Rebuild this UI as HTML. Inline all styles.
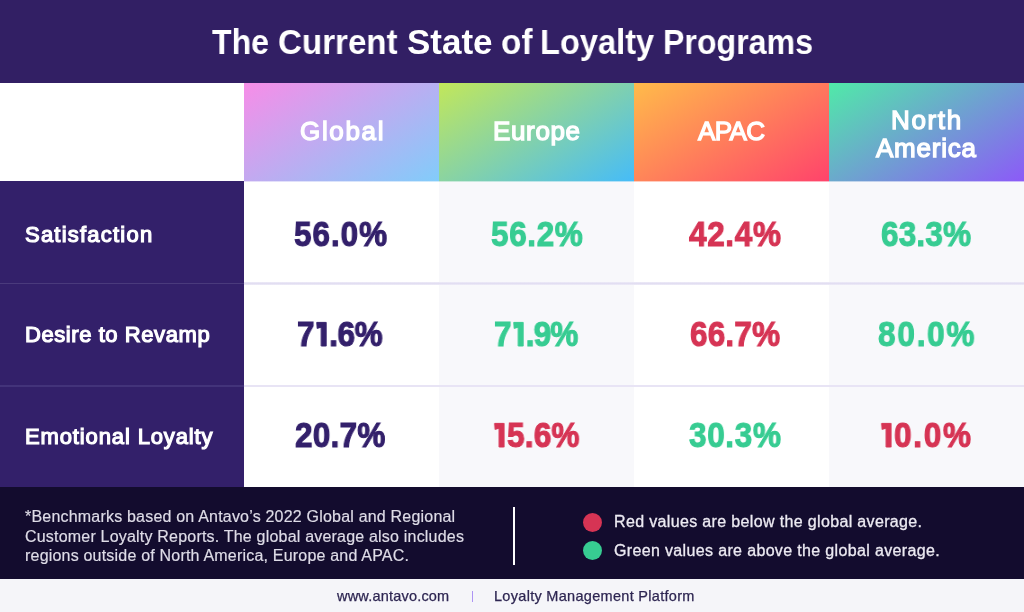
<!DOCTYPE html>
<html><head><meta charset="utf-8">
<style>
*{margin:0;padding:0;box-sizing:border-box}
html,body{width:1024px;height:612px;overflow:hidden;background:#fff}
body{position:relative;font-family:"Liberation Sans",sans-serif;-webkit-font-smoothing:antialiased}
.t{will-change:transform}
.a{position:absolute}
.t{position:absolute;white-space:nowrap;line-height:1}
#hdr{left:0;top:0;width:1024px;height:83px;background:#321f64}
.tw{color:#fff;font-weight:bold;font-size:35px;transform-origin:0 0}
.hc{top:83px;height:98px;width:195px}
.hl{color:#fff;font-weight:normal;font-size:26px;transform-origin:0 0;-webkit-text-stroke:1.3px #fff}
.lc{left:0;width:244px;background:#33206a}
.rl{color:#fff;font-weight:normal;font-size:22px;-webkit-text-stroke:1.2px #fff}
.num{font-weight:bold;font-size:35px;transform:scaleX(0.9);transform-origin:0 0;-webkit-text-stroke:1.1px currentColor}
.one{fill:currentColor;stroke:currentColor;stroke-width:1;vertical-align:baseline;overflow:visible}
.pu{color:#33206b}.gr{color:#37cc92}.rd{color:#d63454}
.ft{color:#dedce7;font-size:16px;letter-spacing:0.2px;-webkit-text-stroke:0.2px #dedce7}
</style></head><body>
<div id="hdr" class="a"></div>
<div class="t tw" style="left:211.5px;top:24px;transform:scaleX(0.915)">The</div><div class="t tw" style="left:277.5px;top:24px;transform:scaleX(0.946)">Current</div><div class="t tw" style="left:407.4px;top:24px;transform:scaleX(1.000)">State</div><div class="t tw" style="left:500.5px;top:24px;transform:scaleX(0.953)">of</div><div class="t tw" style="left:540.3px;top:24px;transform:scaleX(0.931)">Loyalty</div><div class="t tw" style="left:662.7px;top:24px;transform:scaleX(0.918)">Programs</div>

<!-- header row -->
<div class="a" style="left:0;top:83px;width:244px;height:98px;background:#fff"></div>
<div class="a hc" style="left:244px;background:linear-gradient(148deg,#f78de8 0%,#82ccfa 100%)"></div>
<div class="a hc" style="left:439px;background:linear-gradient(148deg,#c2e75a 0%,#46bcf8 100%)"></div>
<div class="a hc" style="left:634px;background:linear-gradient(148deg,#ffbb4a 0%,#ff3c6d 106%)"></div>
<div class="a hc" style="left:829px;background:linear-gradient(148deg,#50eaa8 0%,#8c5af8 100%)"></div>
<div class="t hl" style="left:299.70px;top:118px;letter-spacing:1.66px">Global</div>
<div class="t hl" style="left:493.00px;top:118px;letter-spacing:0.64px">Europe</div>
<div class="t hl" style="left:698.00px;top:118px;letter-spacing:-0.65px">APAC</div>
<div class="t hl" style="left:891.00px;top:107px;letter-spacing:1.64px">North</div>
<div class="t hl" style="left:876.00px;top:135px;letter-spacing:0.77px">America</div>

<!-- body -->
<div class="a lc" style="top:181px;height:306px"></div>
<div class="a" style="left:244px;top:181px;width:195px;height:306px;background:#fff"></div>
<div class="a" style="left:439px;top:181px;width:195px;height:306px;background:#f8f8fb"></div>
<div class="a" style="left:634px;top:181px;width:195px;height:306px;background:#fff"></div>
<div class="a" style="left:829px;top:181px;width:195px;height:306px;background:#f8f8fb"></div>
<!-- dividers -->
<div class="a" style="left:244px;top:181px;width:195px;height:1px;opacity:.4;background:linear-gradient(90deg,#c2a9f0,#82cbf9)"></div><div class="a" style="left:439px;top:181px;width:195px;height:1px;opacity:.4;background:linear-gradient(90deg,#8bd4a1,#47bcf8)"></div><div class="a" style="left:634px;top:181px;width:195px;height:1px;opacity:.4;background:linear-gradient(90deg,#ff8558,#ff436b)"></div><div class="a" style="left:829px;top:181px;width:195px;height:1px;opacity:.4;background:linear-gradient(90deg,#6baacc,#8c5bf8)"></div>
<div class="a" style="left:0;top:283px;width:244px;height:1px;background:#4a3a7c"></div>
<div class="a" style="left:0;top:385px;width:244px;height:2px;background:#43337a"></div>
<div class="a" style="left:244px;top:282px;width:780px;height:3px;background:linear-gradient(#f2f0f9,#e2def2 33%,#e2def2 66%,#f2f0f9)"></div>
<div class="a" style="left:244px;top:385px;width:780px;height:2px;background:#e8e4f5"></div>

<div class="t rl" style="left:24.5px;top:224px;letter-spacing:1.22px">Satisfaction</div>
<div class="t rl" style="left:24.5px;top:324px;letter-spacing:0.57px">Desire to Revamp</div>
<div class="t rl" style="left:24.5px;top:425.5px;letter-spacing:0.87px">Emotional Loyalty</div>

<div class="t num pu" style="left:293.50px;top:216px;letter-spacing:1.02px">56.0%</div>
<div class="t num gr" style="left:491.00px;top:216px;letter-spacing:0.68px">56.2%</div>
<div class="t num rd" style="left:689.00px;top:216px;letter-spacing:0.72px">42.4%</div>
<div class="t num gr" style="left:880.50px;top:216px;letter-spacing:0.20px">63.3%</div>
<div class="t num pu" style="left:297.00px;top:316px;letter-spacing:-0.49px">7<svg class="one" viewBox="0 0 11 24" width="12.2" height="24" style="margin:0 2.5px 0 2px"><path d="M0.2 0.4H10.8V24H5.3V5.2L0.7 6.4Z"/></svg>.6%</div>
<div class="t num gr" style="left:494.00px;top:316px;letter-spacing:-0.93px">7<svg class="one" viewBox="0 0 11 24" width="12.2" height="24" style="margin:0 2.5px 0 2px"><path d="M0.2 0.4H10.8V24H5.3V5.2L0.7 6.4Z"/></svg>.9%</div>
<div class="t num rd" style="left:690.00px;top:316px;letter-spacing:0.20px">66.7%</div>
<div class="t num gr" style="left:878.00px;top:316px;letter-spacing:1.98px">80.0%</div>
<div class="t num pu" style="left:295.00px;top:417px;letter-spacing:0.31px">20.7%</div>
<div class="t num rd" style="left:491.50px;top:417px;letter-spacing:0.25px"><svg class="one" viewBox="0 0 11 24" width="12.2" height="24" style="margin:0 2.5px 0 2px"><path d="M0.2 0.4H10.8V24H5.3V5.2L0.7 6.4Z"/></svg>5.6%</div>
<div class="t num gr" style="left:689.00px;top:417px;letter-spacing:0.72px">30.3%</div>
<div class="t num rd" style="left:879.00px;top:417px;letter-spacing:1.89px"><svg class="one" viewBox="0 0 11 24" width="12.2" height="24" style="margin:0 2.5px 0 2px"><path d="M0.2 0.4H10.8V24H5.3V5.2L0.7 6.4Z"/></svg>0.0%</div>

<!-- footer -->
<div class="a" style="left:0;top:487px;width:1024px;height:92px;background:#130c2e"></div>
<div class="t ft" style="left:25px;top:509px">*Benchmarks based on Antavo’s 2022 Global and Regional</div>
<div class="t ft" style="left:25px;top:528.5px">Customer Loyalty Reports. The global average also includes</div>
<div class="t ft" style="left:25px;top:548px">regions outside of North America, Europe and APAC.</div>
<div class="a" style="left:513px;top:507px;width:1.6px;height:58px;background:#fff"></div>
<div class="a" style="left:583px;top:513px;width:19px;height:19px;border-radius:50%;background:#d63454"></div>
<div class="a" style="left:583px;top:541px;width:19px;height:19px;border-radius:50%;background:#37cc92"></div>
<div class="t ft" style="left:614px;top:514px;letter-spacing:0.35px;color:#eceaf2;-webkit-text-stroke:0.3px #eceaf2">Red values are below the global average.</div>
<div class="t ft" style="left:614px;top:542.5px;letter-spacing:0.35px;color:#eceaf2;-webkit-text-stroke:0.3px #eceaf2">Green values are above the global average.</div>

<!-- bottom bar -->
<div class="a" style="left:0;top:579px;width:1024px;height:33px;background:#f5f5f9"></div>
<div class="t" style="left:337px;top:589px;font-size:14.5px;color:#2e2652;-webkit-text-stroke:0.25px #2e2652;letter-spacing:0.2px">www.antavo.com</div>
<div class="a" style="left:471.5px;top:591px;width:1.5px;height:10.5px;background:#ad94f4"></div>
<div class="t" style="left:494px;top:589px;font-size:14.5px;color:#2e2652;-webkit-text-stroke:0.25px #2e2652;letter-spacing:0.3px">Loyalty Management Platform</div>
</body></html>
